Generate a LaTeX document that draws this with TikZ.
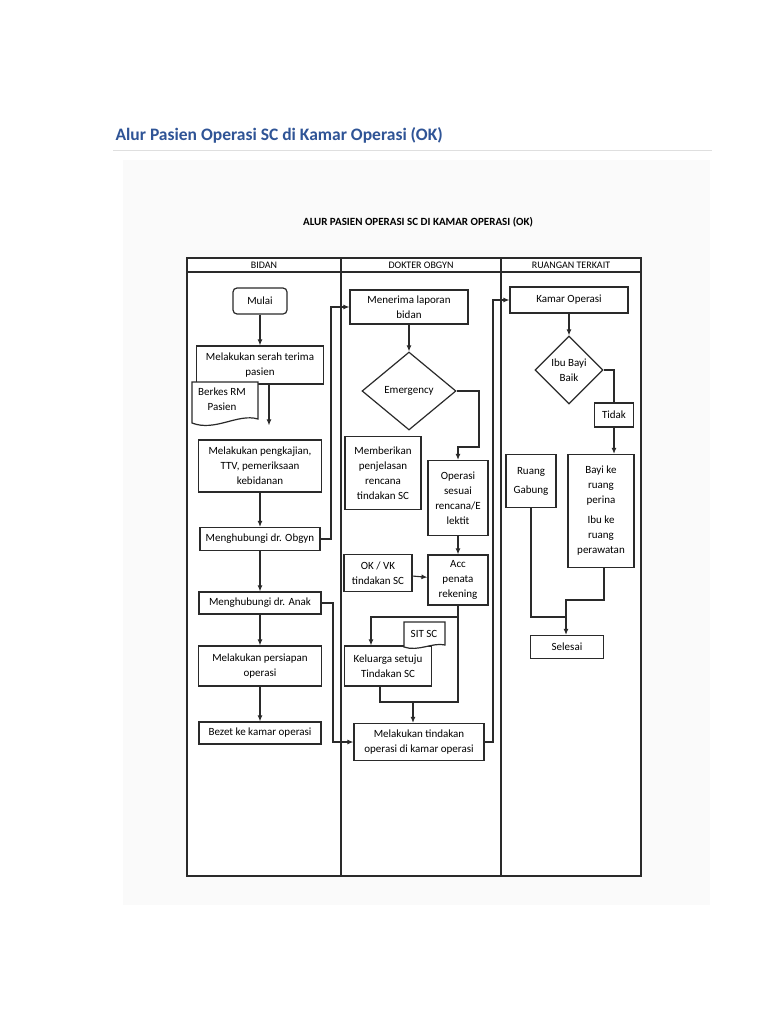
\documentclass[tikz,border=0pt]{standalone}
\usepackage{fontspec}
\setmainfont{Carlito}
\usetikzlibrary{shapes.geometric,arrows.meta}
\definecolor{ttl}{HTML}{2F5496}
\definecolor{ln}{HTML}{2A2A2A}
\begin{document}
\begin{tikzpicture}[x=1pt,y=-1pt,
  box/.style={draw=ln,line width=1.2pt,fill=white,align=center,inner sep=0pt,font=\fontsize{11}{15}\selectfont},
  dia/.style={draw=ln,line width=1.2pt,diamond,aspect=1.2,inner sep=0pt,align=center,font=\fontsize{11}{15}\selectfont},
  arr/.style={draw=ln,line width=1.1pt,-{Latex[length=6pt,width=5pt]}},
  con/.style={draw=ln,line width=1.1pt},
  lbl/.style={font=\fontsize{11}{15}\selectfont,align=center}]
\useasboundingbox (0,0) rectangle (768,1024);
\fill[white] (0,0) rectangle (768,1024);
\node[anchor=west,text=ttl,font=\fontsize{17.5}{20}\bfseries\selectfont] (title) at (112,135) {Alur Pasien Operasi SC di Kamar Operasi (OK)};
\draw[gray!25] (113,150) -- (712,150);
\fill[gray!4] (123,160) rectangle (710,905);
\node[font=\fontsize{11}{13}\bfseries\selectfont] (t2) at (418,222) {ALUR PASIEN OPERASI SC DI KAMAR OPERASI (OK)};
% lanes
\draw[ln,line width=1.2pt,fill=white] (187,258) rectangle (641,876);
\draw[ln,line width=1.2pt] (187,272) -- (641,272) (341,258) -- (341,876) (501,258) -- (501,876);
\node[font=\fontsize{10}{12}\selectfont] (h1) at (264,265) {BIDAN};
\node[font=\fontsize{10}{12}\selectfont] (h2) at (421,265) {DOKTER OBGYN};
\node[font=\fontsize{10}{12}\selectfont] (h3) at (571,265) {RUANGAN TERKAIT};
% Bidan
\node[box,rounded corners=4pt,minimum width=54pt,minimum height=26pt] (mulai) at (260,301) {Mulai};
\node[box,minimum width=127pt,minimum height=38pt] (st) at (260,365) {Melakukan serah terima\\pasien};
\draw[ln,line width=1.2pt,fill=white] (192,382) -- (258,382) -- (258,419) .. controls (238,413) and (215,432) .. (192,423) -- cycle;
\node[lbl] (bk) at (222,399) {Berkes RM\\Pasien};
\node[box,minimum width=123pt,minimum height=52pt] (pk) at (260,466) {Melakukan pengkajian,\\TTV, pemeriksaan\\kebidanan};
\node[box,minimum width=120pt,minimum height=23pt] (ob) at (260,539) {Menghubungi dr. Obgyn};
\node[box,minimum width=122pt,minimum height=22pt] (an) at (260,603) {Menghubungi dr. Anak};
\node[box,minimum width=123pt,minimum height=40pt] (ps) at (260,666) {Melakukan persiapan\\operasi};
\node[box,minimum width=122pt,minimum height=22pt] (bz) at (260,733) {Bezet ke kamar operasi};
% Dokter
\node[box,minimum width=118pt,minimum height=34pt] (ml) at (409,307) {Menerima laporan\\bidan};
\node[dia,minimum width=94pt,minimum height=78pt] (em) at (409,391) {Emergency};
\node[box,minimum width=76pt,minimum height=73pt] (mb) at (383,473) {Memberikan\\penjelasan\\rencana\\tindakan SC};
\node[box,minimum width=60pt,minimum height=75pt] (os) at (458,498) {Operasi\\sesuai\\rencana/E\\lektit};
\node[box,minimum width=68pt,minimum height=37pt] (vk) at (378,573) {OK / VK\\tindakan SC};
\node[box,minimum width=60pt,minimum height=50pt] (acc) at (458,580) {Acc\\penata\\rekening};
\node[box,minimum width=87pt,minimum height=40pt] (kl) at (388,666) {Keluarga setuju\\Tindakan SC};
\draw[ln,line width=1.2pt,fill=white] (404,622) -- (445,622) -- (445,645) .. controls (433,642) and (418,652) .. (404,647) -- cycle;
\node[lbl] (sit) at (424,634) {SIT SC};
\node[box,minimum width=130pt,minimum height=37pt] (mt) at (419,742) {Melakukan tindakan\\operasi di kamar operasi};
% Ruangan
\node[box,minimum width=118pt,minimum height=26pt] (ko) at (569,300) {Kamar Operasi};
\node[dia,aspect=1,minimum width=68pt,minimum height=68pt] (ib) at (569,370) {Ibu Bayi\\Baik};
\node[box,minimum width=39pt,minimum height=24pt] (td) at (614,415) {Tidak};
\node[box,minimum width=50pt,minimum height=53pt,font=\fontsize{11}{19}\selectfont] (rg) at (531,481) {Ruang\\Gabung};
\node[box,minimum width=66pt,minimum height=113pt] (by) at (601,511) {Bayi ke\\ruang\\perina\\[5pt]Ibu ke\\ruang\\perawatan};
\node[box,minimum width=73pt,minimum height=23pt] (sl) at (567,647) {Selesai};
% connectors
\draw[arr] (mulai) -- (st);
\draw[arr] ([xshift=9pt]st.south) -- ([xshift=9pt,yshift=14pt]pk.north);
\draw[arr] (pk) -- (ob);
\draw[arr] (ob) -- (an);
\draw[arr] (an) -- (ps);
\draw[arr] (ps) -- (bz);
\coordinate (c1) at (331,539);
\draw[arr] (ob.east) -- (c1) |- (ml.west);
\coordinate (c2) at (333,603);
\draw[arr] (an.east) -- (c2) |- (mt.west);
\draw[arr] (ml) -- (em);
\coordinate (c3) at (479,391);
\coordinate (c4) at (479,447);
\draw[arr] (em.east) -- (c3) -- (c4) -| (os.north);
\draw[arr] (os) -- (acc);
\draw[arr] (vk) -- (acc);
\coordinate (c5) at (458,617);
\coordinate (c6) at (458,702);
\coordinate (c7) at (413,702);
\draw[arr] (acc.south) -- (c5) -| ([xshift=-17pt]kl.north);
\draw[con] (c5) -- (c6) -- (c7);
\draw[con] ([xshift=-8pt]kl.south) |- (c7);
\draw[arr] (c7) -- (c7 |- mt.north);
\coordinate (c8) at (493,742);
\draw[arr] (mt.east) -- (c8) |- (ko.west);
\draw[arr] (ko) -- (ib);
\draw[con] (ib.east) -| (td.north);
\draw[arr] (td) -- (td |- by.north);
\coordinate (c9) at (531,617);
\coordinate (c10) at (604,600);
\coordinate (c11) at (566,600);
\draw[con] (rg.south) -- (c9) -- (566,617);
\draw[arr] ([xshift=3pt]by.south) -- (c10) -- (c11) -- (c11 |- sl.north);
\end{tikzpicture}
\end{document}
